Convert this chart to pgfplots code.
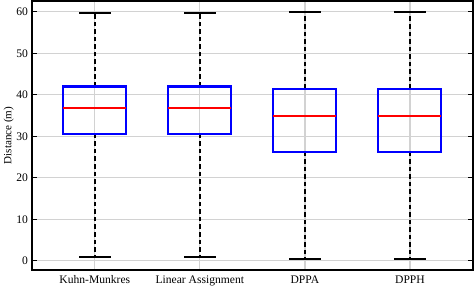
\documentclass[border=0pt]{standalone}
\usepackage{fontspec}
\setmainfont{Liberation Serif}
\usepackage{pgfplots}
\usepgfplotslibrary{statistics}
\pgfplotsset{compat=1.18}
\begin{document}
\fontsize{11}{13}\selectfont
\begin{tikzpicture}
\begin{axis}[
  scale only axis,
  width=438pt, height=267pt,
  xmin=-0.6, xmax=3.6,
  ymin=-2.2, ymax=62.6,
  xtick={0,1,2,3},
  xticklabels={Kuhn-Munkres,Linear Assignment,DPPA,DPPH},
  ytick={0,10,20,30,40,50,60},
  /pgf/number format/assume math mode=true,
  tick label style={font=\fontsize{11.5}{13}\selectfont},
  ylabel={Distance (m)},
  ylabel style={font=\fontsize{11}{12}\selectfont, yshift=-5pt},
  grid=major,
  major grid style={gray!35, line width=1.2pt},
  axis line style={black, line width=2pt},
  tick style={black, line width=1.2pt},
  major tick length=5pt,
  tick align=inside,
  xtick style={draw=none},
  ytick pos=both,
  xticklabel style={yshift=-2pt},
  boxplot/draw direction=y,
  boxplot/box extend=0.6,
  boxplot/whisker extend=0.3,
  boxplot/draw/box/.code={
    \draw[blue, line width=2pt, solid]
      (boxplot box cs:\pgfplotsboxplotvalue{lower quartile},0) rectangle
      (boxplot box cs:\pgfplotsboxplotvalue{upper quartile},1);
  },
  boxplot/draw/median/.code={
    \draw[red, line width=2pt, solid]
      (boxplot box cs:\pgfplotsboxplotvalue{median},0) --
      (boxplot box cs:\pgfplotsboxplotvalue{median},1);
  },
  boxplot/draw/lower whisker/.code={
    \draw[black, line width=1.9pt, dash pattern=on 4.5pt off 3pt]
      (boxplot box cs:\pgfplotsboxplotvalue{lower quartile},0.5) --
      (boxplot box cs:\pgfplotsboxplotvalue{lower whisker},0.5);
    \draw[black, line width=1.9pt, solid]
      (boxplot whisker cs:\pgfplotsboxplotvalue{lower whisker},0) --
      (boxplot whisker cs:\pgfplotsboxplotvalue{lower whisker},1);
  },
  boxplot/draw/upper whisker/.code={
    \draw[black, line width=1.9pt, dash pattern=on 4.5pt off 3pt]
      (boxplot box cs:\pgfplotsboxplotvalue{upper quartile},0.5) --
      (boxplot box cs:\pgfplotsboxplotvalue{upper whisker},0.5);
    \draw[black, line width=1.9pt, solid]
      (boxplot whisker cs:\pgfplotsboxplotvalue{upper whisker},0) --
      (boxplot whisker cs:\pgfplotsboxplotvalue{upper whisker},1);
  },
]
\addplot[black, boxplot prepared={draw position=0,
  lower whisker=1.0, lower quartile=30.6, median=36.9,
  upper quartile=42.0, upper whisker=59.7}] coordinates {};
\addplot[black, boxplot prepared={draw position=1,
  lower whisker=1.0, lower quartile=30.6, median=36.9,
  upper quartile=42.0, upper whisker=59.7}] coordinates {};
\addplot[black, boxplot prepared={draw position=2,
  lower whisker=0.4, lower quartile=26.3, median=35.0,
  upper quartile=41.4, upper whisker=60.0}] coordinates {};
\addplot[black, boxplot prepared={draw position=3,
  lower whisker=0.4, lower quartile=26.3, median=35.0,
  upper quartile=41.4, upper whisker=60.0}] coordinates {};
\end{axis}
\end{tikzpicture}
\end{document}
